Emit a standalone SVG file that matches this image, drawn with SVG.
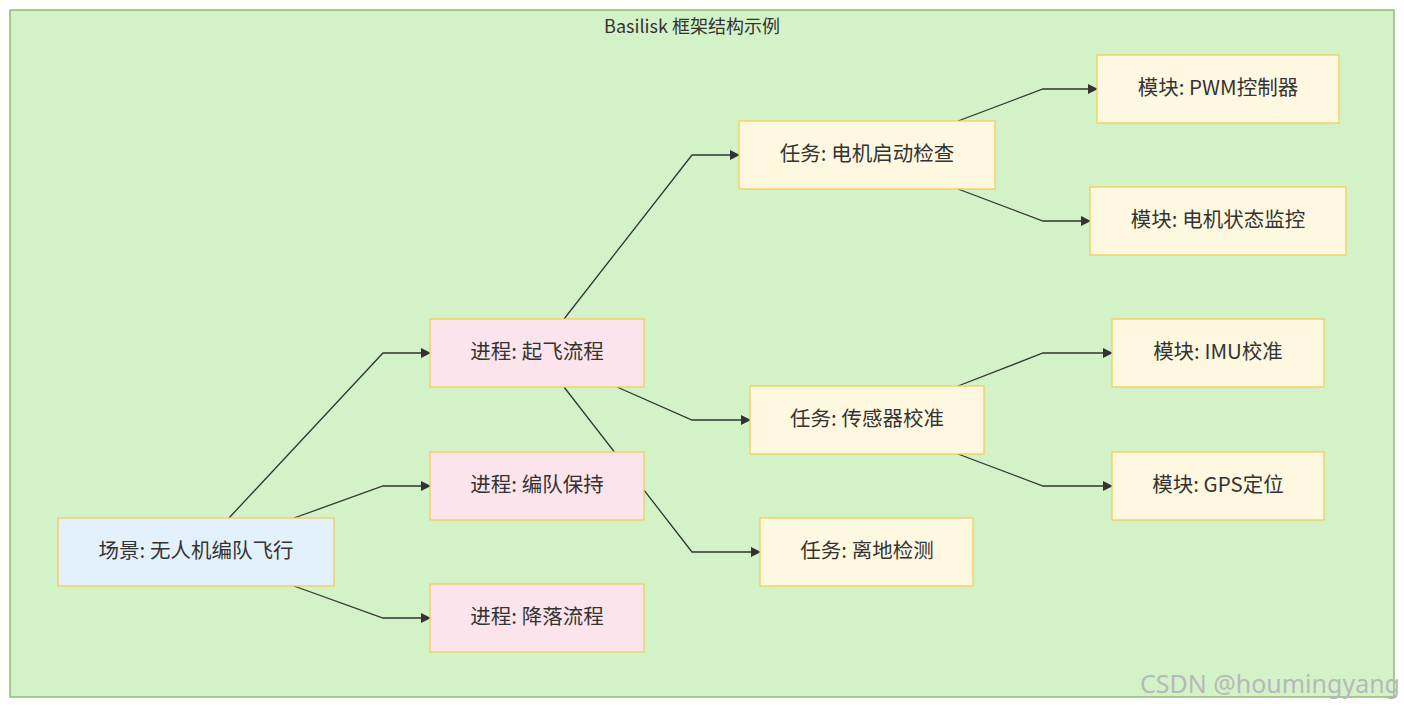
<svg xmlns="http://www.w3.org/2000/svg" width="1404" height="708" viewBox="0 0 1404 708">
<defs>
<marker id="arr" markerWidth="10" markerHeight="10" refX="9" refY="5" orient="auto" markerUnits="userSpaceOnUse"><path d="M0,0 L10,5 L0,10 z" fill="#333"/></marker>
<style>
.t{font-family:"Noto Sans CJK SC","Noto Sans",sans-serif;font-size:20.5px;fill:#333;text-anchor:middle;dominant-baseline:central}
.n rect{stroke:#f5cd5b;stroke-width:1.3}
.s rect{fill:#e3f1fd}.p rect{fill:#fce4ec}.k rect{fill:#fff8e1}
.e path{fill:none;stroke:#333;stroke-width:1.3;marker-end:url(#arr)}
</style>
</defs>
<rect width="1404" height="708" fill="#fff"/>
<rect x="10" y="10" width="1384" height="687" fill="#d3f2c8" stroke="#82b366" stroke-width="1.3"/>
<text x="692" y="25" class="t" style="font-size:18px">Basilisk 框架结构示例</text>
<g id="connectors" class="e">
<path d="M229,518 L383,353 L430,353"/>
<path d="M294,518 L383,486 L430,486"/>
<path d="M294,586 L383,618 L430,618"/>
<path d="M564,319 L692,155 L739,155"/>
<path d="M617,387 L692,420 L750,420"/>
<path d="M564,387 L692,552 L760,552"/>
<path d="M958,121 L1043,89 L1097,89"/>
<path d="M958,189 L1043,221 L1090,221"/>
<path d="M958,386 L1043,353 L1112,353"/>
<path d="M958,454 L1043,486 L1112,486"/>
</g>
<g id="scene" class="n s"><rect x="58" y="518" width="276" height="68"/><text x="196" y="549" class="t">场景: 无人机编队飞行</text></g>
<g id="p1" class="n p"><rect x="430" y="319" width="214" height="68"/><text x="537" y="350" class="t">进程: 起飞流程</text></g>
<g id="p2" class="n p"><rect x="430" y="452" width="214" height="68"/><text x="537" y="483" class="t">进程: 编队保持</text></g>
<g id="p3" class="n p"><rect x="430" y="584" width="214" height="68"/><text x="537" y="615" class="t">进程: 降落流程</text></g>
<g id="t1" class="n k"><rect x="739" y="121" width="256" height="68"/><text x="867" y="152" class="t">任务: 电机启动检查</text></g>
<g id="t2" class="n k"><rect x="750" y="386" width="234" height="68"/><text x="867" y="417" class="t">任务: 传感器校准</text></g>
<g id="t3" class="n k"><rect x="760" y="518" width="213" height="68"/><text x="867" y="549" class="t">任务: 离地检测</text></g>
<g id="m1" class="n k"><rect x="1097" y="55" width="242" height="68"/><text x="1218" y="86" class="t">模块: PWM控制器</text></g>
<g id="m2" class="n k"><rect x="1090" y="187" width="256" height="68"/><text x="1218" y="218" class="t">模块: 电机状态监控</text></g>
<g id="m3" class="n k"><rect x="1112" y="319" width="212" height="68"/><text x="1218" y="350" class="t">模块: IMU校准</text></g>
<g id="m4" class="n k"><rect x="1112" y="452" width="212" height="68"/><text x="1218" y="483" class="t">模块: GPS定位</text></g>
<text x="1400" y="683" style="font-family:'Noto Sans',sans-serif;font-size:25px;fill:#b8b8b8;text-anchor:end;dominant-baseline:central">CSDN @houmingyang</text>
</svg>
